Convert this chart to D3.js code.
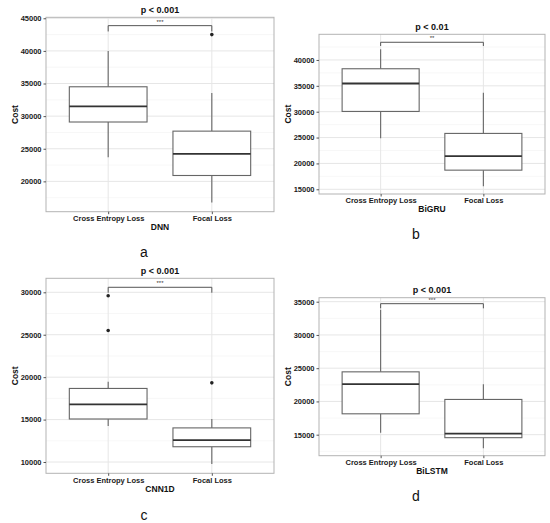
<!DOCTYPE html>
<html>
<head>
<meta charset="utf-8">
<script src="https://cdn.jsdelivr.net/npm/d3@7"></script>
<style>
  body { margin: 0; background: #fff; }
  svg text { font-family: "Liberation Sans", Arial, sans-serif; }
</style>
</head>
<body>
<svg id="chart"></svg>
<script>
const width = 550;
const height = 523;

// Data: [lower whisker, Q1, median, Q3, upper whisker]
const categories = ["Cross Entropy Loss", "Focal Loss"];

const dnnStats = [[23700, 29100, 31500, 34500, 40000], [16750, 20900, 24200, 27700, 33550]];
const dnnOutliers = [[], [42500]];
const dnnTicks = [20000, 25000, 30000, 35000, 40000, 45000];
const dnnDomain = [15350, 45150];
const dnnBracket = [43870, 42980];

const bigruStats = [[24850, 30050, 35450, 38300, 42050], [15600, 18700, 21400, 25800, 33650]];
const bigruOutliers = [[], []];
const bigruTicks = [15000, 20000, 25000, 30000, 35000, 40000];
const bigruDomain = [14090, 44960];
const bigruBracket = [43420, 42700];

const cnnStats = [[14250, 15070, 16800, 18670, 19450], [9760, 11800, 12590, 14020, 15070]];
const cnnOutliers = [[29600, 25500], [19330]];
const cnnTicks = [10000, 15000, 20000, 25000, 30000];
const cnnDomain = [8670, 31650];
const cnnBracket = [30590, 29950];

const lstmStats = [[15300, 18140, 22590, 24450, 33800], [12950, 14550, 15150, 20300, 22590]];
const lstmOutliers = [[], []];
const lstmTicks = [15000, 20000, 25000, 30000, 35000];
const lstmDomain = [11840, 35600];
const lstmBracket = [34700, 34000];

const panels = [
  { name: "DNN", letter: "a", p: "p < 0.001", stars: "***", stats: dnnStats, outliers: dnnOutliers,
    ticks: dnnTicks, domain: dnnDomain, bracket: dnnBracket,
    box: { left: 46, right: 274, top: 17.3, bottom: 211.7 } },
  { name: "BiGRU", letter: "b", p: "p < 0.01", stars: "**", stats: bigruStats, outliers: bigruOutliers,
    ticks: bigruTicks, domain: bigruDomain, bracket: bigruBracket,
    box: { left: 319, right: 545, top: 34.3, bottom: 194 } },
  { name: "CNN1D", letter: "c", p: "p < 0.001", stars: "***", stats: cnnStats, outliers: cnnOutliers,
    ticks: cnnTicks, domain: cnnDomain, bracket: cnnBracket,
    box: { left: 46, right: 274, top: 278.3, bottom: 473.3 }, letterDy: 2 },
  { name: "BiLSTM", letter: "d", p: "p < 0.001", stars: "***", stats: lstmStats, outliers: lstmOutliers,
    ticks: lstmTicks, domain: lstmDomain, bracket: lstmBracket,
    box: { left: 319, right: 545, top: 297.7, bottom: 455.7 } }
];

const svg = d3.select("#chart")
  .attr("width", width)
  .attr("height", height);

panels.forEach(drawPanel);

function drawPanel(cfg) {
  const b = cfg.box;
  const w = b.right - b.left;
  const h = b.bottom - b.top;

  const g = svg.append("g")
    .attr("transform", `translate(${b.left}, ${b.top})`);

  // discrete x like ggplot: 0.6 expansion each side
  const x = d3.scalePoint()
    .domain(categories)
    .range([0, w])
    .padding(0.6);
  const step = x.step();
  const boxW = step * 0.75;

  const y = d3.scaleLinear()
    .domain(cfg.domain)
    .range([h, 0]);

  // minor grid
  const minor = cfg.ticks.map(t => t - 2500).concat([cfg.ticks[cfg.ticks.length - 1] + 2500])
    .filter(v => v > cfg.domain[0] && v < cfg.domain[1]);
  g.selectAll(".minor")
    .data(minor)
    .enter()
    .append("line")
    .attr("x1", 0).attr("x2", w)
    .attr("y1", d => y(d)).attr("y2", d => y(d))
    .attr("stroke", "#f2f2f2")
    .attr("stroke-width", 0.6);

  // major grid
  g.selectAll(".major")
    .data(cfg.ticks)
    .enter()
    .append("line")
    .attr("x1", 0).attr("x2", w)
    .attr("y1", d => y(d)).attr("y2", d => y(d))
    .attr("stroke", "#e6e6e6")
    .attr("stroke-width", 1);

  g.selectAll(".vgrid")
    .data(categories)
    .enter()
    .append("line")
    .attr("x1", d => x(d)).attr("x2", d => x(d))
    .attr("y1", 0).attr("y2", h)
    .attr("stroke", "#e6e6e6")
    .attr("stroke-width", 1);

  // boxes
  const groups = g.selectAll(".box")
    .data(cfg.stats)
    .enter()
    .append("g")
    .attr("transform", (d, i) => `translate(${x(categories[i])}, 0)`);

  groups.append("line")
    .attr("x1", 0).attr("x2", 0)
    .attr("y1", d => y(d[3])).attr("y2", d => y(d[4]))
    .attr("stroke", "#666").attr("stroke-width", 1.1);
  groups.append("line")
    .attr("x1", 0).attr("x2", 0)
    .attr("y1", d => y(d[0])).attr("y2", d => y(d[1]))
    .attr("stroke", "#666").attr("stroke-width", 1.1);
  groups.append("rect")
    .attr("x", -boxW / 2)
    .attr("width", boxW)
    .attr("y", d => y(d[3]))
    .attr("height", d => y(d[1]) - y(d[3]))
    .attr("fill", "#fff")
    .attr("stroke", "#666")
    .attr("stroke-width", 1.1);
  groups.append("line")
    .attr("x1", -boxW / 2).attr("x2", boxW / 2)
    .attr("y1", d => y(d[2])).attr("y2", d => y(d[2]))
    .attr("stroke", "#333").attr("stroke-width", 1.8);

  // outliers
  cfg.outliers.forEach((pts, i) => {
    g.selectAll(null)
      .data(pts)
      .enter()
      .append("circle")
      .attr("cx", x(categories[i]))
      .attr("cy", d => y(d))
      .attr("r", 1.8)
      .attr("fill", "#222");
  });

  // significance bracket
  const [by, tip] = cfg.bracket;
  const x1 = x(categories[0]);
  const x2 = x(categories[1]);
  g.append("path")
    .attr("d", `M${x1},${y(tip)}V${y(by)}H${x2}V${y(tip)}`)
    .attr("fill", "none")
    .attr("stroke", "#555")
    .attr("stroke-width", 1);
  g.append("text")
    .attr("x", (x1 + x2) / 2)
    .attr("y", y(by) - 2)
    .attr("text-anchor", "middle")
    .attr("font-size", 6)
    .attr("fill", "#333")
    .text(cfg.stars);

  // panel border
  g.append("rect")
    .attr("width", w).attr("height", h)
    .attr("fill", "none")
    .attr("stroke", "#b3b3b3")
    .attr("stroke-width", 1);

  // axes
  const yAxis = g.append("g")
    .call(d3.axisLeft(y).tickValues(cfg.ticks).tickFormat(d3.format("d")).tickSize(2.5).tickPadding(2));
  const xAxis = g.append("g")
    .attr("transform", `translate(0, ${h})`)
    .call(d3.axisBottom(x).tickSize(2.5).tickPadding(1.5));
  [yAxis, xAxis].forEach(a => {
    a.select(".domain").remove();
    a.selectAll(".tick line").attr("stroke", "#555");
    a.selectAll(".tick text")
      .attr("font-size", 7.5)
      .attr("font-weight", "bold")
      .attr("fill", "#1a1a1a")
      .attr("font-family", "Liberation Sans, Arial, sans-serif");
  });

  // titles
  g.append("text")
    .attr("x", w / 2)
    .attr("y", -4.5)
    .attr("text-anchor", "middle")
    .attr("font-size", 9)
    .attr("font-weight", "bold")
    .attr("fill", "#111")
    .text(cfg.p);

  g.append("text")
    .attr("x", w / 2)
    .attr("y", h + 18.5)
    .attr("text-anchor", "middle")
    .attr("font-size", 8.5)
    .attr("font-weight", "bold")
    .attr("fill", "#111")
    .text(cfg.name);

  g.append("text")
    .attr("transform", `translate(-28, ${h / 2}) rotate(-90)`)
    .attr("text-anchor", "middle")
    .attr("font-size", 8.5)
    .attr("font-weight", "bold")
    .attr("fill", "#111")
    .text("Cost");

  g.append("text")
    .attr("x", w / 2 - 16)
    .attr("y", h + 45 + (cfg.letterDy || 0))
    .attr("text-anchor", "middle")
    .attr("font-size", 14)
    .attr("font-family", "Liberation Serif, DejaVu Serif, serif")
    .attr("fill", "#111")
    .text(cfg.letter);
}
</script>
</body>
</html>
